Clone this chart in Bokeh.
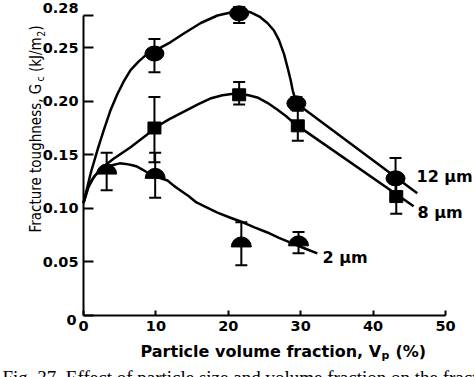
import math
from bokeh.plotting import figure
from bokeh.models import Range1d, FixedTicker, Label, Whisker, ColumnDataSource, TeeHead
from bokeh.embed import file_html
from bokeh.resources import INLINE

# ---------------- data ----------------
# 12 um particles (filled circles)
c12_x = [9.8, 21.5, 29.4, 43.1]
c12_y = [0.2445, 0.282, 0.198, 0.128]
c12_lo = [0.227, 0.273, 0.192, 0.109]
c12_hi = [0.258, 0.288, 0.204, 0.147]
# 8 um particles (filled squares)
s8_x = [9.8, 21.5, 29.6, 43.2]
s8_y = [0.175, 0.206, 0.177, 0.111]
s8_lo = [0.143, 0.197, 0.163, 0.095]
s8_hi = [0.204, 0.218, 0.191, 0.127]
# 2 um particles (half-filled domes)
h2_x = [3.2, 9.9, 21.8, 29.7]
h2_y = [0.132, 0.128, 0.064, 0.065]
h2_lo = [0.117, 0.110, 0.047, 0.058]
h2_hi = [0.152, 0.152, 0.087, 0.078]

# trend curves
curve12_x = [0, 1.0, 2.0, 2.8, 3.7, 4.7, 5.6, 6.5, 7.6, 8.6, 9.8, 12.0, 13.8, 16.2, 18.5,
             20.5, 22.0, 23.1, 24.3, 25.4, 26.3, 27.0, 27.7, 28.2, 28.6, 28.9, 29.4, 46.1]
curve12_y = [0.105, 0.133, 0.156, 0.173, 0.191, 0.207, 0.219, 0.229, 0.237, 0.243, 0.247, 0.255,
             0.263, 0.273, 0.280, 0.283, 0.284, 0.283, 0.279, 0.273, 0.266, 0.257, 0.244, 0.231,
             0.220, 0.210, 0.198, 0.114]
curve8_x = [0, 0.7, 1.5, 2.4, 4.1, 6.5, 8.8, 9.8, 11.8, 13.8, 15.8, 17.5, 19.2, 20.7, 21.5,
            22.8, 24.0, 25.4, 26.8, 28.0, 29.0, 29.6, 45.6]
curve8_y = [0.105, 0.120, 0.130, 0.137, 0.146, 0.157, 0.169, 0.175, 0.183, 0.190, 0.197, 0.2025,
            0.2055, 0.207, 0.207, 0.2055, 0.2035, 0.1985, 0.192, 0.186, 0.180, 0.177, 0.102]
curve2_x = [0, 0.55, 1.1, 1.65, 2.5, 3.2, 4.1, 5.0, 5.8, 6.6, 7.4, 8.2, 8.8, 9.8, 10.7, 11.6,
            12.5, 13.4, 14.5, 15.6, 17.0, 18.5, 20.2, 22.0, 23.7, 25.4, 27.0, 28.6, 30.4, 32.3]
curve2_y = [0.105, 0.1185, 0.126, 0.131, 0.136, 0.139, 0.1405, 0.142, 0.1415, 0.1405, 0.139,
            0.136, 0.1335, 0.130, 0.128, 0.126, 0.121, 0.1167, 0.1115, 0.1055, 0.101, 0.096,
            0.0915, 0.087, 0.082, 0.0775, 0.0725, 0.068, 0.063, 0.058]

x_ticks = [0, 10, 20, 30, 40, 50]
y_ticks = [0, 0.05, 0.10, 0.15, 0.20, 0.25, 0.28]
y_tick_labels = ["0", "0.05", "0.10", "0.15", "0.20", "0.25", "0.28"]
series_labels = ["12 µm", "8 µm", "2 µm"]
x_title = ["Particle volume fraction, V", "p", "(%)"]
y_title = ["Fracture toughness, G", "c", "(kJ/m", "2", ")"]
caption = "Fig. 37. Effect of particle size and volume fraction on the fracture toughness"

# ---------------- layout (canvas px) ----------------
W, H = 474, 377
FL, FR, FT, FB = 83, 445, 15, 315   # plotting-area edges
XMAX, YMAX = 50, 0.28
sx = XMAX / (FR - FL)
sy = YMAX / (FB - FT)

def dx(px):  # canvas px -> data x
    return (px - FL) * sx

def dy(py):  # canvas px -> data y
    return (FB - py) * sy

p = figure(width=W, height=H, output_backend="svg", toolbar_location=None,
           x_range=Range1d(-FL * sx, (W - FL) * sx),
           y_range=Range1d(-(H - FB) * sy, FB * sy),
           min_border=0, min_border_left=0, min_border_right=0,
           min_border_top=0, min_border_bottom=0)
p.outline_line_color = None
p.grid.visible = False
p.background_fill_color = "white"
p.border_fill_color = "white"

for ax in (p.xaxis, p.yaxis):
    ax.fixed_location = 0
    ax.axis_line_width = 2
    ax.axis_line_color = "black"
    ax.major_tick_line_width = 2
    ax.major_tick_line_color = "black"
    ax.major_tick_out = 0
    ax.minor_tick_line_color = None
    ax.major_label_text_font = "DejaVu Sans"
    ax.major_label_text_font_style = "bold"
    ax.major_label_text_font_size = "14.5px"
    ax.major_label_text_color = "black"
    ax.major_label_standoff = 5
p.xaxis.bounds = (0, XMAX)
p.yaxis.bounds = (0, YMAX)
p.xaxis.major_tick_in = 5
p.yaxis.major_tick_in = 10
p.xaxis.ticker = FixedTicker(ticks=x_ticks)
p.yaxis.ticker = FixedTicker(ticks=y_ticks)
ov = {t: l for t, l in zip(y_ticks, y_tick_labels)}
ov[y_ticks[0]] = ""
ov[y_ticks[-1]] = ""
p.yaxis.major_label_overrides = ov


def lab(txt, px, py, size, bold=True, angle=0.0, font="DejaVu Sans", align="left",
        baseline="alphabetic"):
    p.add_layout(Label(x=dx(px), y=dy(py), text=txt, angle=angle, text_font=font,
                       text_font_style="bold" if bold else "normal", text_font_size=size,
                       text_align=align, text_baseline=baseline, text_color="black"))

# separately placed y tick labels (top and origin, as in the picture)
lab(y_tick_labels[-1], 78, 2, "14.5px", align="right", baseline="top")
lab(y_tick_labels[0], 76, 319, "14.5px", align="right", baseline="middle")

# curves
for cx, cy in ((curve12_x, curve12_y), (curve8_x, curve8_y), (curve2_x, curve2_y)):
    p.line(cx, cy, line_color="black", line_width=2.5, line_join="round")

# error bars
def add_err(xs, lo, hi):
    src = ColumnDataSource(dict(x=xs, lo=lo, hi=hi))
    p.add_layout(Whisker(source=src, base="x", lower="lo", upper="hi", dimension="height",
                         line_color="black", line_width=2,
                         upper_head=TeeHead(size=12, line_width=2, line_color="black"),
                         lower_head=TeeHead(size=12, line_width=2, line_color="black")))

add_err(c12_x, c12_lo, c12_hi)
add_err(s8_x, s8_lo, s8_hi)
add_err(h2_x, h2_lo, h2_hi)

# markers
p.ellipse(x=c12_x, y=c12_y, width=19, height=15, width_units="screen", height_units="screen",
          fill_color="black", line_color="black")
p.rect(x=s8_x, y=s8_y, width=13, height=12, width_units="screen", height_units="screen",
       fill_color="black", line_color="black")
p.wedge(x=h2_x, y=h2_y, radius=10, radius_units="screen", start_angle=0, end_angle=math.pi,
        fill_color="black", line_color="black")

# series labels
for txt, px, py in zip(series_labels, [416, 417, 322], [176, 212, 257]):
    lab(txt, px, py, "16px", baseline="middle")

# x axis title (with subscript)
lab(x_title[0], 140, 351, "16px")
lab(x_title[1], 381, 355, "11px")
lab(x_title[2], 395, 351, "16px")

# y axis title (rotated 90 deg, with sub/superscript)
ang = math.pi / 2
yf = "DejaVu Sans Condensed"
lab(y_title[0], 35, 232, "15px", bold=False, angle=ang, font=yf)
lab(y_title[1], 39, 81, "10.5px", bold=False, angle=ang, font=yf)
lab(y_title[2], 35, 71.5, "15px", bold=False, angle=ang, font=yf)
lab(y_title[3], 40, 36.2, "10.5px", bold=False, angle=ang, font=yf)
lab(y_title[4], 35, 30, "15px", bold=False, angle=ang, font=yf)

# caption (cut by the lower edge, as in the picture)
lab(caption, 2, 377, "19px", bold=False, font="Liberation Serif")

open("out.html", "w").write(file_html(p, INLINE))
